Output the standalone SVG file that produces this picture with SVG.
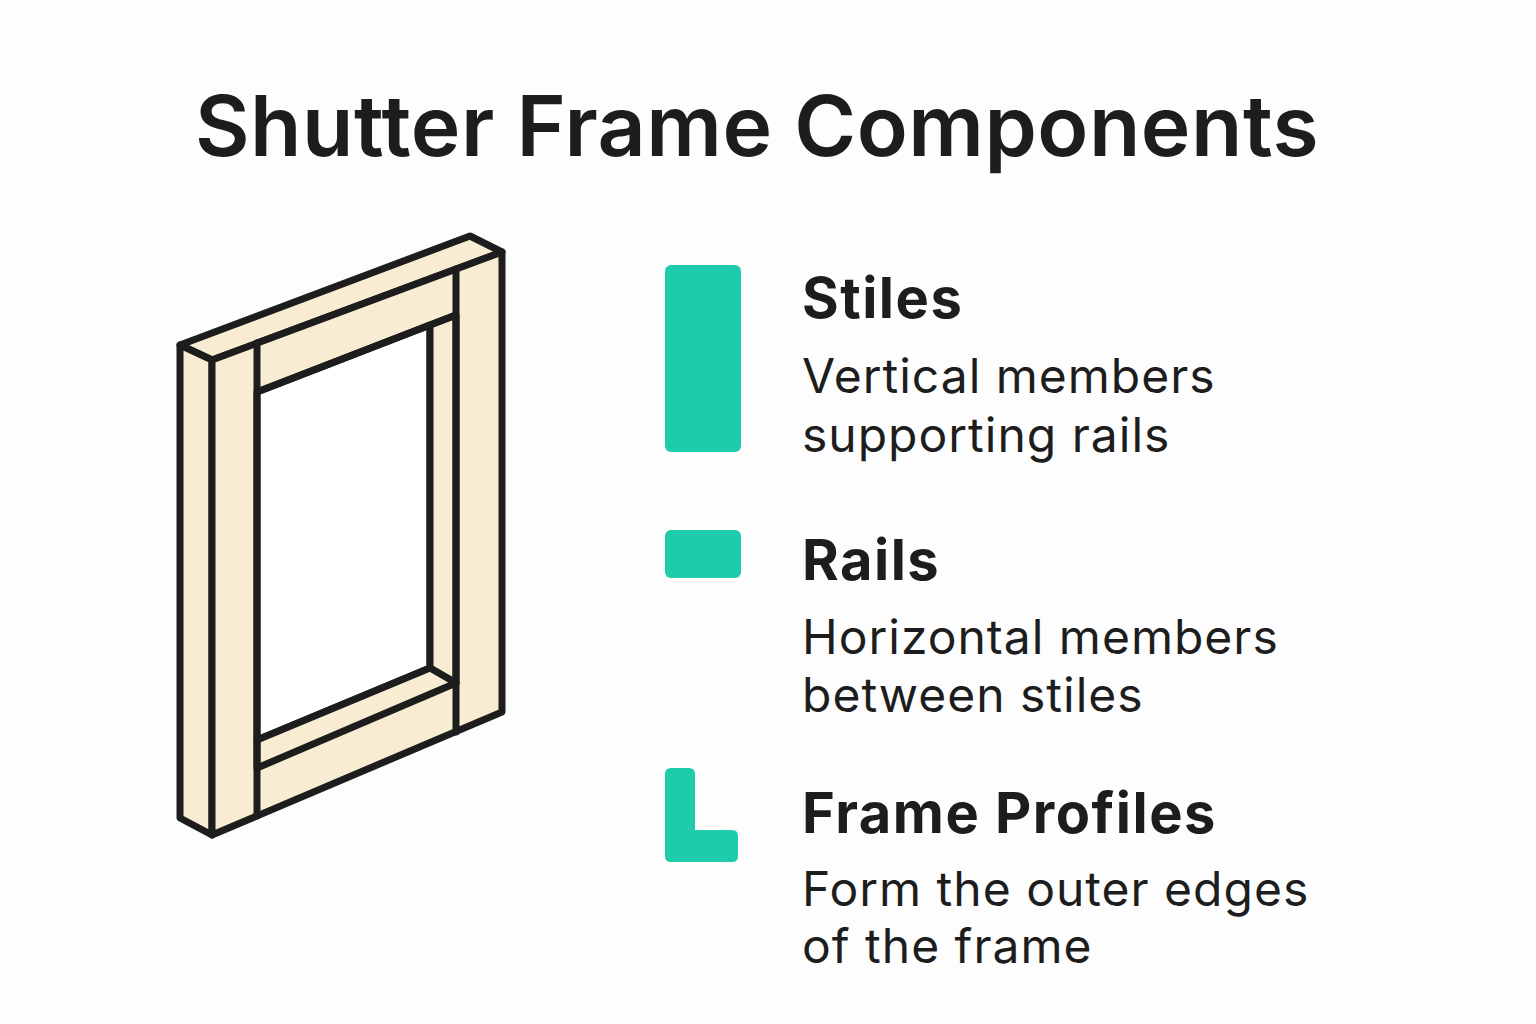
<svg xmlns="http://www.w3.org/2000/svg" width="1536" height="1024" viewBox="0 0 1536 1024">
<style>
.t{font-family:Inter,"Noto Sans",sans-serif;fill:#1d1d1d}
.h{font-weight:700;font-size:56px;letter-spacing:1.5px}
.d{font-size:48px;letter-spacing:1px}
.w{fill:#f8ecd3;stroke:#1d1d1d;stroke-width:7;stroke-linejoin:round}
.ln{fill:none;stroke:#1d1d1d;stroke-width:7;stroke-linecap:round}
.k{fill:#1ecbab}
</style>
<rect width="1536" height="1024" fill="#fdfdfd"/>
<text class="t" x="757" y="156" text-anchor="middle" font-size="84" font-weight="600" letter-spacing="0.5">Shutter Frame Components</text>
<g id="frame">
<polygon class="w" points="180,345 470,236 502,252 212,360" fill="#fcf4e4"/>
<polygon class="w" points="180,345 212,360 212,835 180,818"/>
<polygon class="w" points="212,360 502,252 502,712 212,835"/>
<polygon points="257,392 430,325 430,668 257,740" fill="#ffffff" stroke="#1d1d1d" stroke-width="7" stroke-linejoin="round"/>
<polygon class="w" points="430,325 456,315 456,683 430,668"/>
<polygon class="w" points="257,740 430,668 456,683 257,768" fill="#fcf4e4"/>
<path class="ln" d="M257,343 V816 M456,269 V732 M257,392 L456,315"/>
</g>
<g id="stiles">
<rect class="k" x="665" y="265" width="76" height="187" rx="6"/>
<text class="t h" x="802" y="318">Stiles</text>
<text class="t d" x="802" y="393">Vertical members</text>
<text class="t d" x="802" y="452">supporting rails</text>
</g>
<g id="rails">
<rect class="k" x="665" y="530" width="76" height="48" rx="6"/>
<text class="t h" x="802" y="580">Rails</text>
<text class="t d" x="802" y="654">Horizontal members</text>
<text class="t d" x="802" y="712">between stiles</text>
</g>
<g id="profiles">
<path class="k" d="M671,768 H689 Q695,768 695,774 V830 H732 Q738,830 738,836 V856 Q738,862 732,862 H671 Q665,862 665,856 V774 Q665,768 671,768 Z"/>
<text class="t h" x="802" y="833">Frame Profiles</text>
<text class="t d" x="802" y="906">Form the outer edges</text>
<text class="t d" x="802" y="963">of the frame</text>
</g>
<g id="connectors"/>
</svg>
